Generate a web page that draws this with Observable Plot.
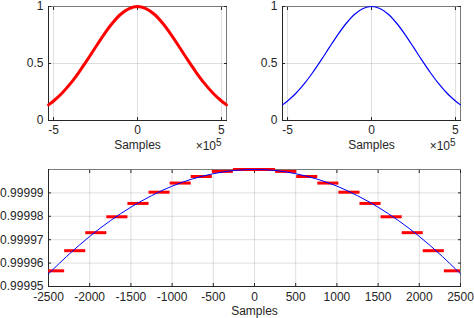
<!DOCTYPE html>
<html><head><meta charset="utf-8">
<script src="https://cdn.jsdelivr.net/npm/d3@7"></script>
<script src="https://cdn.jsdelivr.net/npm/@observablehq/plot@0.6"></script>
<style>
body{margin:0;background:#fff}
#wrap{position:relative;width:474px;height:318px;overflow:hidden}
</style></head><body><div id="wrap"></div>
<script>
// Top panels: samples in units of 1e5
const topX = [-5.3,-5,-4.5,-4,-3.5,-3,-2.5,-2,-1.5,-1,-0.5,0,0.5,1,1.5,2,2.5,3,3.5,4,4.5,5,5.3];
const topY = [0.137,0.171,0.239,0.323,0.421,0.529,0.643,0.754,0.853,0.932,0.982,1,0.982,0.932,0.853,0.754,0.643,0.529,0.421,0.323,0.239,0.171,0.137];
const topXTicks = [-5,0,5];
const topYTicks = [0,0.5,1];

// Bottom panel: zoom near the peak
const botX = [-2500,-2250,-2000,-1750,-1500,-1250,-1000,-750,-500,-250,0,250,500,750,1000,1250,1500,1750,2000,2250,2500];
const botY = [0.9999554,0.9999638,0.9999714,0.9999781,0.9999839,0.9999888,0.9999929,0.9999960,0.9999982,0.9999996,1.0,0.9999996,0.9999982,0.9999960,0.9999929,0.9999888,0.9999839,0.9999781,0.9999714,0.9999638,0.9999554];
const stepX1 = [-2500,-2304,-2048,-1792,-1536,-1280,-1024,-768,-512,-256,0,256,512,768,1024,1280,1536,1792,2048,2304];
const stepX2 = [-2304,-2048,-1792,-1536,-1280,-1024,-768,-512,-256,0,256,512,768,1024,1280,1536,1792,2048,2304,2500];
const stepY = [0.9999567,0.9999653,0.9999730,0.9999798,0.9999855,0.9999903,0.9999942,0.9999970,0.9999992,1.0,1.0,0.9999992,0.9999970,0.9999942,0.9999903,0.9999855,0.9999798,0.9999730,0.9999653,0.9999567];
const botXTicks = [-2500,-2000,-1500,-1000,-500,0,500,1000,1500,2000,2500];
const botYTicks = [0.99995,0.99996,0.99997,0.99998,0.99999];

const FONT = '"Liberation Sans", Arial, Helvetica, sans-serif';
const INK = "#262626";
const gridOpt = {stroke:"#000", strokeOpacity:0.13};

function baseStyle(left, top) {
  return {position:"absolute", left:left+"px", top:top+"px", fontFamily:FONT, fontSize:"12px", color:INK, background:"transparent", overflow:"visible"};
}

function frameMarks(xt, yt) {
  return [
    Plot.frame({stroke:"#7a7a7a"}),
    Plot.frame({anchor:"left", stroke:INK}),
    Plot.frame({anchor:"bottom", stroke:INK}),
    Plot.axisX(xt, {anchor:"bottom", tickSize:-3, fill:"none", label:null, stroke:INK}),
    Plot.axisX(xt, {anchor:"top", tickSize:-3, fill:"none", label:null, stroke:INK}),
    Plot.axisY(yt, {anchor:"left", tickSize:-3, fill:"none", label:null, stroke:INK}),
    Plot.axisY(yt, {anchor:"right", tickSize:-3, fill:"none", label:null, stroke:INK})
  ];
}

function topPanel(color, sw, ml, mr, left) {
  const data = topX.map((x, i) => ({x, y: topY[i]}));
  return Plot.plot({
    width:237, height:160, marginLeft:ml, marginRight:mr, marginTop:6, marginBottom:40,
    style: baseStyle(left, 0),
    x:{domain:[-5.3,5.3]}, y:{domain:[0,1]},
    marks:[
      Plot.gridX(topXTicks, gridOpt),
      Plot.gridY(topYTicks, gridOpt),
      ...frameMarks(topXTicks, topYTicks),
      Plot.line(data, {x:"x", y:"y", stroke:color, strokeWidth:sw, curve:"catmull-rom"}),
      Plot.axisX(topXTicks, {anchor:"bottom", tickSize:0, tickPadding:5, tickFormat:d => String(d), label:null, fill:INK}),
      Plot.axisY(topYTicks, {anchor:"left", tickSize:0, tickPadding:5, tickFormat:d => String(d), label:null, fill:INK}),
      Plot.text(["Samples"], {text:d => d, frameAnchor:"bottom", lineAnchor:"middle", dy:25, fill:INK, fontSize:12}),
      Plot.text(["×10"], {text:d => d, frameAnchor:"bottom-right", lineAnchor:"middle", textAnchor:"end", dx:-10.5, dy:26, fill:INK, fontSize:12}),
      Plot.text(["5"], {text:d => d, frameAnchor:"bottom-right", lineAnchor:"middle", textAnchor:"start", dx:-10.5, dy:22, fill:INK, fontSize:10})
    ]
  });
}

const wrap = document.getElementById("wrap");
wrap.appendChild(topPanel("#ff0000", 3, 48, 11, 0));
wrap.appendChild(topPanel("#0000ff", 1.2, 45, 14, 237));

const curve = botX.map((x, i) => ({x, y: botY[i]}));
const steps = stepX1.map((x1, i) => ({x1, x2: stepX2[i], y: stepY[i]}));
wrap.appendChild(Plot.plot({
  width:474, height:158, marginLeft:48, marginRight:14, marginTop:9, marginBottom:32,
  style: baseStyle(0, 160),
  x:{domain:[-2500,2500]}, y:{domain:[0.99995,1.0]},
  marks:[
    Plot.gridX(botXTicks, gridOpt),
    Plot.gridY(botYTicks, gridOpt),
    ...frameMarks(botXTicks, botYTicks),
    Plot.ruleY(steps, {x1:"x1", x2:"x2", y:"y", stroke:"#ff0000", strokeWidth:3}),
    Plot.line(curve, {x:"x", y:"y", stroke:"#0000ff", strokeWidth:1, curve:"catmull-rom"}),
    Plot.axisX(botXTicks, {anchor:"bottom", tickSize:0, tickPadding:6, tickFormat:d => String(d), label:null, fill:INK}),
    Plot.axisY(botYTicks, {anchor:"left", tickSize:0, tickPadding:5, tickFormat:d => d3.format(".5f")(d), label:null, fill:INK}),
    Plot.text(["Samples"], {text:d => d, frameAnchor:"bottom", lineAnchor:"middle", dy:24.5, fill:INK, fontSize:12})
  ]
}));
</script>
</body></html>
